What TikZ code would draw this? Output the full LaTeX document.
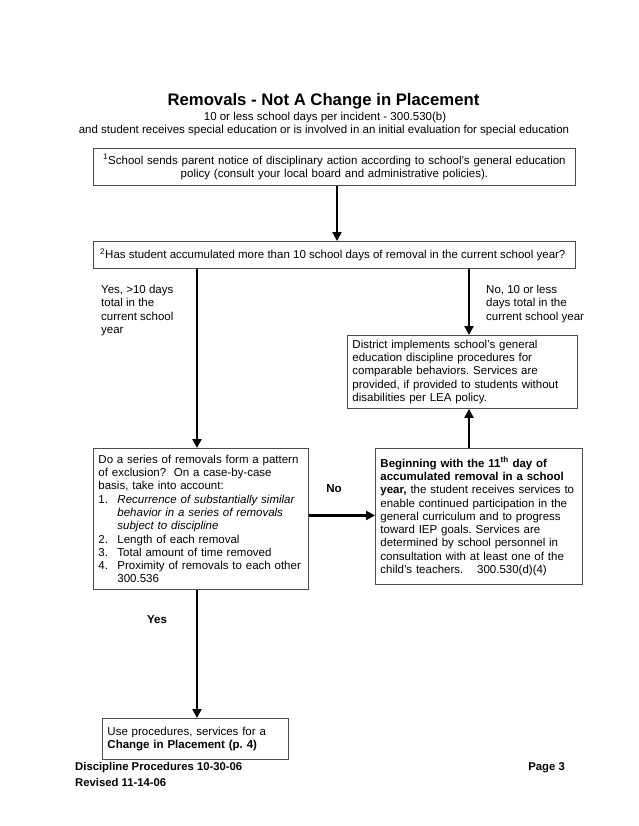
\documentclass[tikz,border=0pt]{standalone}
\usepackage{fontspec}
\setmainfont{Liberation Sans}
\usetikzlibrary{arrows.meta, positioning}
\frenchspacing

\begin{document}
\begin{tikzpicture}[
  x=1pt, y=-1pt,
  every node/.style = {font=\fontsize{11.5}{13.3}\selectfont},
  block/.style = {draw=black!70, line width=0.9pt, inner xsep=5pt, inner ysep=3pt, anchor=north west, align=left},
  arrow/.style = {line width=2.8pt, -{Triangle[length=9pt,width=9pt]}},
  note/.style = {inner sep=0pt, anchor=north west, align=left},
  yesno/.style = {font=\fontsize{11.5}{13.3}\selectfont\bfseries, inner sep=0pt},
  foot/.style = {font=\fontsize{11.3}{14}\selectfont\bfseries, inner sep=0pt}
]
  \useasboundingbox (0,0) rectangle (638,826);

  % Heading
  \node[font=\fontsize{16.7}{20}\selectfont\bfseries, anchor=base] (title) at (323.5,106) {Removals - Not A Change in Placement};
  \node[anchor=base] (sub1) at (325,120.1) {10 or less school days per incident - 300.530(b)};
  \node[anchor=base] (sub2) at (324,133.1) {and student receives special education or is involved in an initial evaluation for special education};

  % Notice
  \node[block, align=center, text width=472pt, minimum height=37pt] (notice) at (93,148) {
    \textsuperscript{1}School sends parent notice of disciplinary action according to school’s general education\\
    policy (consult your local board and administrative policies).
  };

  % Question
  \node[block, align=center, minimum width=482pt, minimum height=27pt] (question) at (93,241) {
    \textsuperscript{2}Has student accumulated more than 10 school days of removal in the current school year?
  };

  % Branch labels
  \node[note] (yeslbl) at (101,285) {Yes, >10 days\\ total in the\\ current school\\ year};
  \node[note] (nolbl) at (486,285) {No, 10 or less\\ days total in the\\ current school year};

  % District
  \node[block, text width=220pt, minimum height=73pt] (district) at (347,335) {
    District implements school’s general\\
    education discipline procedures for\\
    comparable behaviors. Services are\\
    provided, if provided to students without\\
    disabilities per LEA policy.
  };

  % Pattern of exclusion
  \node[block, text width=205pt, minimum height=141pt] (pattern) at (93,448) {
    Do a series of removals form a pattern\\
    of exclusion?\ \ On a case-by-case\\
    basis, take into account:\\
    \makebox[19pt][l]{1.}\textit{Recurrence of substantially similar}\\
    \hspace*{19pt}\textit{behavior in a series of removals}\\
    \hspace*{19pt}\textit{subject to discipline}\\
    \makebox[19pt][l]{2.}Length of each removal\\
    \makebox[19pt][l]{3.}Total amount of time removed\\
    \makebox[19pt][l]{4.}Proximity of removals to each other\\
    \hspace*{19pt}300.536
  };

  % Services
  \node[block, text width=197pt, minimum height=136pt] (services) at (375,448) {
    \textbf{Beginning with the 11\textsuperscript{th} day of}\\
    \textbf{accumulated removal in a school}\\
    \textbf{year,} the student receives services to\\
    enable continued participation in the\\
    general curriculum and to progress\\
    toward IEP goals. Services are\\
    determined by school personnel in\\
    consultation with at least one of the\\
    child’s teachers.\hspace{10pt} 300.530(d)(4)
  };

  % Change in placement
  \node[block, text width=176pt, minimum height=41pt] (placement) at (102,718) {
    Use procedures, services for a\\
    \textbf{Change in Placement (p. 4)}
  };

  \node[yesno] (nolink) at (334,489) {No};
  \node[yesno] (yeslink) at (157,620) {Yes};

  % Footer
  \node[foot, anchor=west] (footdate) at (75,768) {Discipline Procedures 10-30-06};
  \node[foot, anchor=west] (footrev) at (75,782) {Revised 11-14-06};
  \node[foot, anchor=east] (footpage) at (565,768) {Page 3};

  % Arrows
  \coordinate (mx) at (337,0);
  \coordinate (lx) at (197,0);
  \coordinate (rx) at (469,0);
  \draw[arrow] (notice.south -| mx) -- (question.north -| mx);
  \draw[arrow] (question.south -| lx) -- (pattern.north -| lx);
  \draw[arrow] (question.south -| rx) -- (district.north -| rx);
  \draw[arrow] (services.north -| rx) -- (district.south -| rx);
  \draw[arrow] ([yshift=3.5pt]pattern.east) -- ([yshift=3.5pt]pattern.east -| services.west);
  \draw[arrow] (pattern.south -| lx) -- (placement.north -| lx);

\end{tikzpicture}
\end{document}
